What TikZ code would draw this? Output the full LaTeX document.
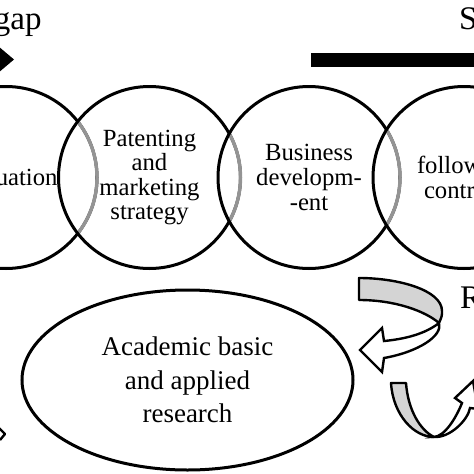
\documentclass[tikz,border=0pt]{standalone}
\usepackage{fontspec}
\setmainfont{Liberation Serif}
\usetikzlibrary{shapes.geometric}
\begin{document}
\begin{tikzpicture}[x=1pt,y=-1pt,
  ring/.style={draw=black, line width=3pt, inner sep=0pt, outer sep=0pt},
  ringgray/.style={draw=black!42, line width=3.4pt},
  bodytext/.style={font=\fontsize{24.7}{24.6}\selectfont, align=center},
  ovaltext/.style={font=\fontsize{27}{33.5}\selectfont, align=center},
  headtext/.style={font=\fontsize{33}{36}\selectfont, inner sep=0pt, outer sep=0pt},
  partial/.style={font=\fontsize{24.7}{24.6}\selectfont, inner sep=0pt, outer sep=0pt},
  ribbonband/.style={draw=black, fill=black!17, line width=2.4pt, line join=round},
  ribbonhead/.style={draw=black, fill=white, line width=2.4pt, line join=miter},
]
\useasboundingbox (0,0) rectangle (474,474);
\clip (0,0) rectangle (474,474);

% heading texts and black bars
\node[headtext, anchor=base west] (gap) at (-6,29) {gap};
\node[headtext, anchor=base west] (stxt) at (459,29) {S};
\node[headtext, anchor=base west] (rtxt) at (460,308) {R};
\fill (-2,46) -- (14,59.5) -- (-2,73) -- cycle;
\fill (311,53) rectangle (480,67);

% circles
\node[ring, circle, minimum size=182pt] (c1) at (6,177.5) {};
\node[ring, circle, minimum size=182pt, bodytext] (c2) at (149.5,177.5) {Patenting\\and\\marketing\\strategy};
\node[ring, circle, minimum size=182pt, bodytext] (c3) at (309,177.5) {Business\\developm-\\-ent};
\node[ring, circle, minimum size=182pt] (c4) at (464,177.5) {};

% gray arcs inside the next circle
\begin{scope}
  \clip (c2.center) circle[radius=89.4];
  \draw[ringgray] (c1.center) circle[radius=91];
\end{scope}
\begin{scope}
  \clip (c3.center) circle[radius=89.4];
  \draw[ringgray] (c2.center) circle[radius=91];
\end{scope}
\begin{scope}
  \clip (c4.center) circle[radius=89.4];
  \draw[ringgray] (c3.center) circle[radius=91];
\end{scope}

% partial texts
\node[partial, anchor=base east] (t1) at (57.5,185) {uation};
\node[partial, anchor=base west] (t4a) at (417,173) {follow};
\node[partial, anchor=base west] (t4b) at (424,198.5) {contr};

% ellipse
\node[ring, ellipse, minimum width=331pt, minimum height=180pt, ovaltext] (acad) at (187.5,380) {Academic basic\\and applied\\research};

% upper curved ribbon arrow
\draw[ribbonhead] (439,323) .. controls (425,334) and (405,339) .. (384,341)
  -- (382,328) -- (360,350) -- (382,372) -- (384,358)
  .. controls (418,352) and (443,336) .. (439,323) -- cycle;
\draw[ribbonband] (359,278) .. controls (398,278) and (442,290) .. (442,311)
  .. controls (442,316) .. (439,323)
  .. controls (425,311) and (395,300) .. (359,300) -- cycle;

% lower curved ribbon arrow
\draw[ribbonhead] (434,437) .. controls (445,436) and (456,418) .. (462,403)
  -- (455,398) -- (473,381) -- (478,409) -- (470,408)
  .. controls (468,420) and (450,438) .. (434,437) -- cycle;
\draw[ribbonband] (391,383) -- (406,383) .. controls (408,410) and (420,430) .. (434,437)
  .. controls (414,437) and (393,415) .. (391,383) -- cycle;

% small mark at bottom left
\draw[line width=2.4pt, line join=round] (-1,428) -- (5,434) -- (0,440);
\end{tikzpicture}
\end{document}
